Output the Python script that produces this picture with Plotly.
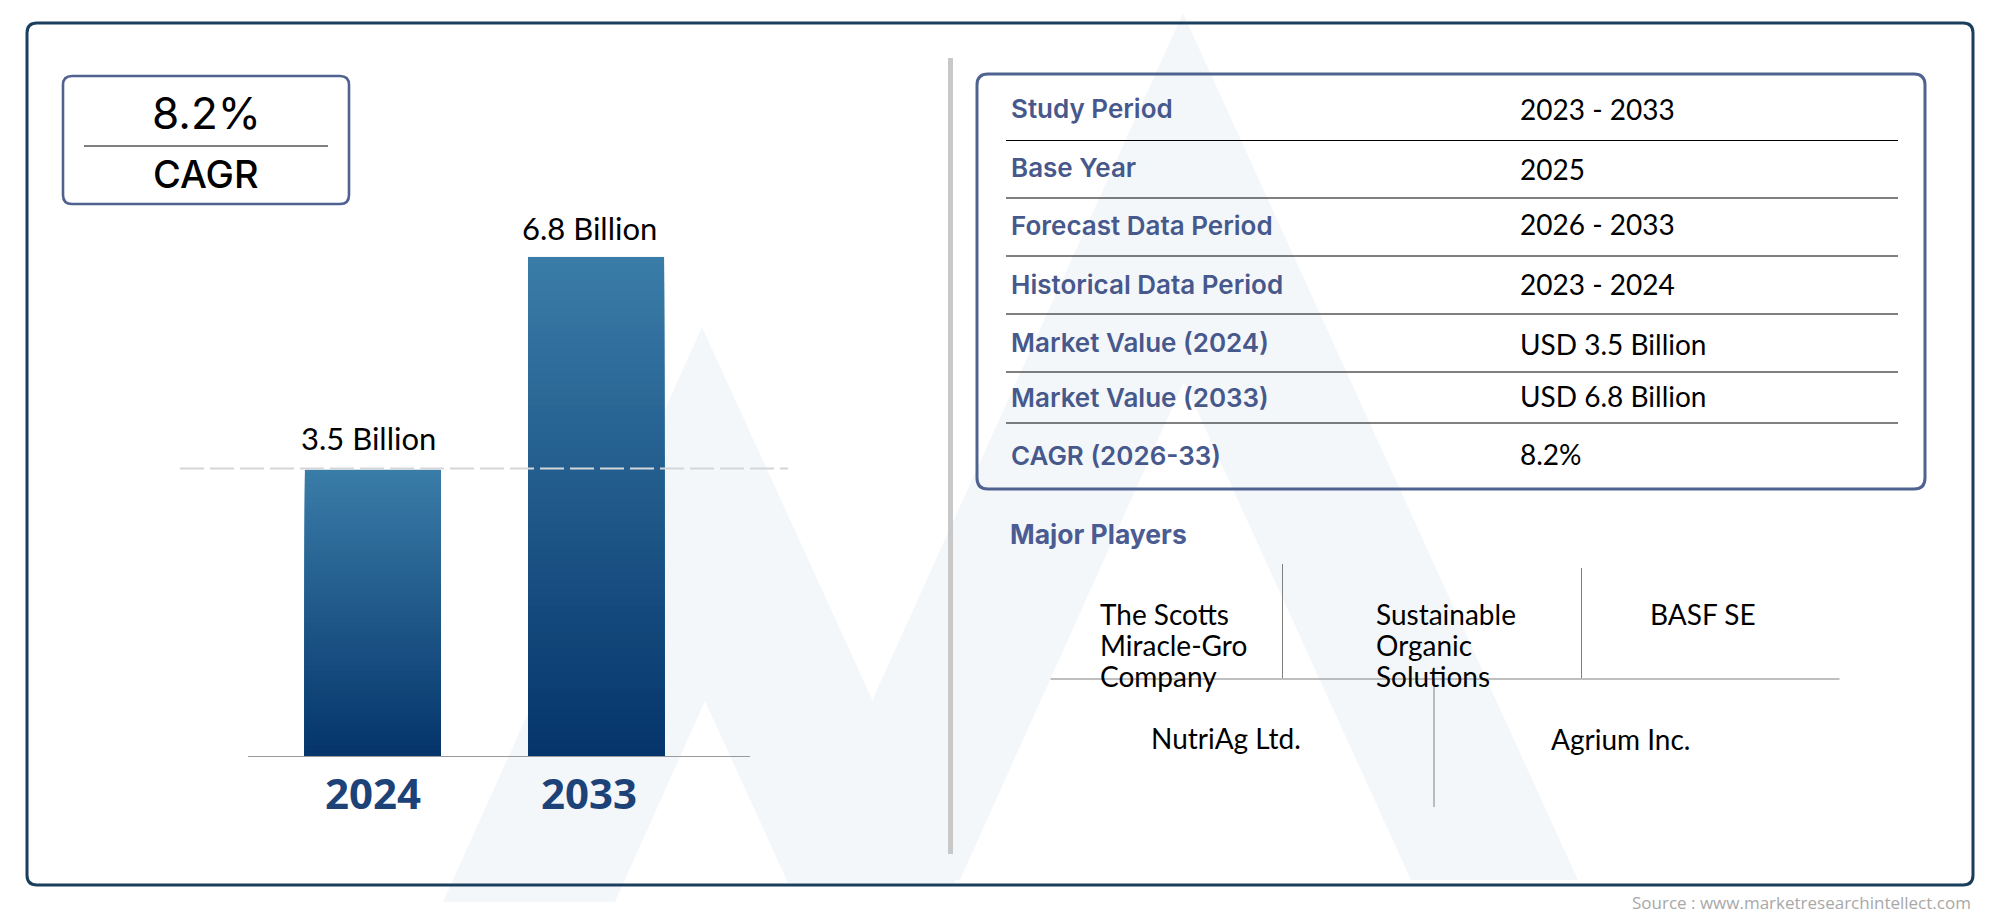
import plotly.graph_objects as go

# ---- data ----
years = ["2024", "2033"]
bar_heights = [3.9, 6.8]          # drawn heights, as read against the 2033 bar
bar_labels = ["3.5 Billion", "6.8 Billion"]
cagr_value = "8.2%"
cagr_label = "CAGR"
table_labels = ["Study Period", "Base Year", "Forecast Data Period", "Historical Data Period",
                "Market Value (2024)", "Market Value (2033)", "CAGR (2026-33)"]
table_values = ["2023 - 2033", "2025", "2026 - 2033", "2023 - 2024",
                "USD 3.5 Billion", "USD 6.8 Billion", "8.2%"]
players_title = "Major Players"
source_text = "Source : www.marketresearchintellect.com"

W, H = 2000, 917
FONT_GEO = "Lato"
FONT_HEAD = "Inter"
NAVY = "#1a3f5c"
BOX = "#4f6290"
LABEL = "#47598c"
WATER = "#f4f7fa"
TOP_RGB = (58, 124, 168)
BOT_RGB = (5, 53, 107)
STEPS = 60


def px(x):
    return x / W


def py(y):
    return 1 - y / H


def rrect(x0, y0, x1, y1, r):
    return (f"M{px(x0+r)},{py(y0)} L{px(x1-r)},{py(y0)} Q{px(x1)},{py(y0)} {px(x1)},{py(y0+r)} "
            f"L{px(x1)},{py(y1-r)} Q{px(x1)},{py(y1)} {px(x1-r)},{py(y1)} "
            f"L{px(x0+r)},{py(y1)} Q{px(x0)},{py(y1)} {px(x0)},{py(y1-r)} "
            f"L{px(x0)},{py(y0+r)} Q{px(x0)},{py(y0)} {px(x0+r)},{py(y0)} Z")


def poly(points):
    return "M" + " L".join(f"{px(x)},{py(y)}" for x, y in points) + " Z"


shapes = []
# watermark
for pts in [
    [(702, 327), (956, 883), (788, 883), (705, 701), (615, 902), (443, 902)],
    [(1183, 13), (1578, 880), (1411, 880), (1184, 382), (960, 880), (791, 880)],
]:
    shapes.append(dict(type="path", xref="paper", yref="paper", path=poly(pts),
                       fillcolor=WATER, line=dict(width=0), layer="below"))
# frame and boxes
for rect, col, lw, r in [((27, 23, 1973, 885), NAVY, 3, 10),
                         ((63, 76, 349, 204), BOX, 2.6, 9),
                         ((977, 74, 1925, 489), BOX, 3, 11)]:
    shapes.append(dict(type="path", xref="paper", yref="paper", path=rrect(*rect, r),
                       line=dict(color=col, width=lw), layer="below"))


def seg(x0, y0, x1, y1, color, width, dash=None, layer="below"):
    line = dict(color=color, width=width)
    if dash:
        line["dash"] = dash
    shapes.append(dict(type="line", xref="paper", yref="paper", x0=px(x0), y0=py(y0),
                       x1=px(x1), y1=py(y1), line=line, layer=layer))


seg(950.5, 58, 950.5, 854, "#c8c8c8", 5)
seg(84, 146, 328, 146, "#000000", 1)
for y in [140.5, 198, 256, 314, 372, 423]:
    seg(1006, y, 1898, y, "#000000", 1)
seg(1282.5, 564, 1282.5, 678, "#808080", 1)
seg(1581.5, 568, 1581.5, 678, "#808080", 1)
seg(1050.5, 679, 1839.5, 679, "#808080", 1.2)
seg(1434, 679, 1434, 807, "#808080", 1)
seg(180, 468.5, 788, 468.5, "#d4d6d8", 2, dash="24px,6px", layer="above")

fig = go.Figure()
# gradient bars: overlaid bars from the full value down, each a shade darker
for i in range(STEPS):
    f = i / (STEPS - 1)
    rgb = tuple(round(a + (b - a) * f) for a, b in zip(TOP_RGB, BOT_RGB))
    frac = 1 - i / STEPS
    fig.add_trace(go.Bar(x=years, y=[v * frac for v in bar_heights], width=0.61,
                         marker=dict(color=f"rgb{rgb}", line=dict(width=0)),
                         showlegend=False, hoverinfo="skip"))

ann = []


def text(x, y, s, size, color="#000000", family=FONT_GEO, anchor="left", weight=None):
    f = dict(size=size, color=color, family=family)
    if weight:
        f["weight"] = weight
    ann.append(dict(xref="paper", yref="paper", x=px(x), y=py(y), text=s, showarrow=False,
                    xanchor=anchor, yanchor="middle", font=f, borderpad=0, borderwidth=0))


# labels above the bars and years below them (category axes take the serial number)
for idx, (yr, h, lab, dx, year_dx, up) in enumerate(zip(years, bar_heights, bar_labels,
                                                        [-4, -7], [0, -7], [32, 29])):
    ann.append(dict(xref="x", yref="y", x=idx, y=h, text=lab, showarrow=False, xanchor="center",
                    yanchor="middle", yshift=up, xshift=dx,
                    font=dict(size=31, color="#000000", family=FONT_GEO)))
    ann.append(dict(xref="x", yref="y", x=idx, y=0, text=yr, showarrow=False, xanchor="center",
                    yanchor="middle", yshift=-36, xshift=year_dx,
                    font=dict(size=42, color="#1c4278", family="Noto Sans", weight=700)))

text(206.5, 113, cagr_value, 44, family=FONT_HEAD, anchor="center", weight=400)
text(206, 174, cagr_label, 38, family=FONT_HEAD, anchor="center", weight=500)

for lab, y in zip(table_labels, [108, 168, 226, 284, 342, 398, 455]):
    text(1011, y, lab, 26, color=LABEL, family=FONT_HEAD, weight=600)
for val, y in zip(table_values, [109, 169, 224, 284, 344, 396, 454]):
    text(1519.5, y, val, 28)

text(1010, 534, players_title, 26.5, color="#4a5c92", family=FONT_HEAD, weight=700)
for s, x, y, a in [("The Scotts", 1100, 613.5, "left"), ("Miracle-Gro", 1100, 644.5, "left"),
                   ("Company", 1100, 675.5, "left"), ("Sustainable", 1375.5, 613.5, "left"),
                   ("Organic", 1375.5, 644.5, "left"), ("Solutions", 1375.5, 675.5, "left"),
                   ("BASF SE", 1650, 613.5, "left"), ("NutriAg Ltd.", 1151, 738, "left"),
                   ("Agrium Inc.", 1551, 739, "left")]:
    text(x, y, s, 28, anchor=a)
text(1971, 902, source_text, 17, color="#a8a8a8", family="Open Sans", anchor="right")

fig.update_layout(
    width=W, height=H, margin=dict(l=0, r=0, t=0, b=0, pad=0, autoexpand=False),
    paper_bgcolor="#ffffff", plot_bgcolor="rgba(0,0,0,0)", barmode="overlay",
    shapes=shapes, annotations=ann, showlegend=False,
    xaxis=dict(type="category", domain=[px(248), px(750)], range=[-0.56, 1.69],
               showticklabels=False, ticks="", showgrid=False, zeroline=False,
               showline=True, linecolor="#9a9a9a", linewidth=1),
    yaxis=dict(domain=[py(756), py(256.7)], range=[0, 6.8], visible=False),
)
fig.write_html("out.html", config=dict(displayModeBar=False),
               post_script="document.body.style.margin='0';document.documentElement.style.overflow='hidden';")
